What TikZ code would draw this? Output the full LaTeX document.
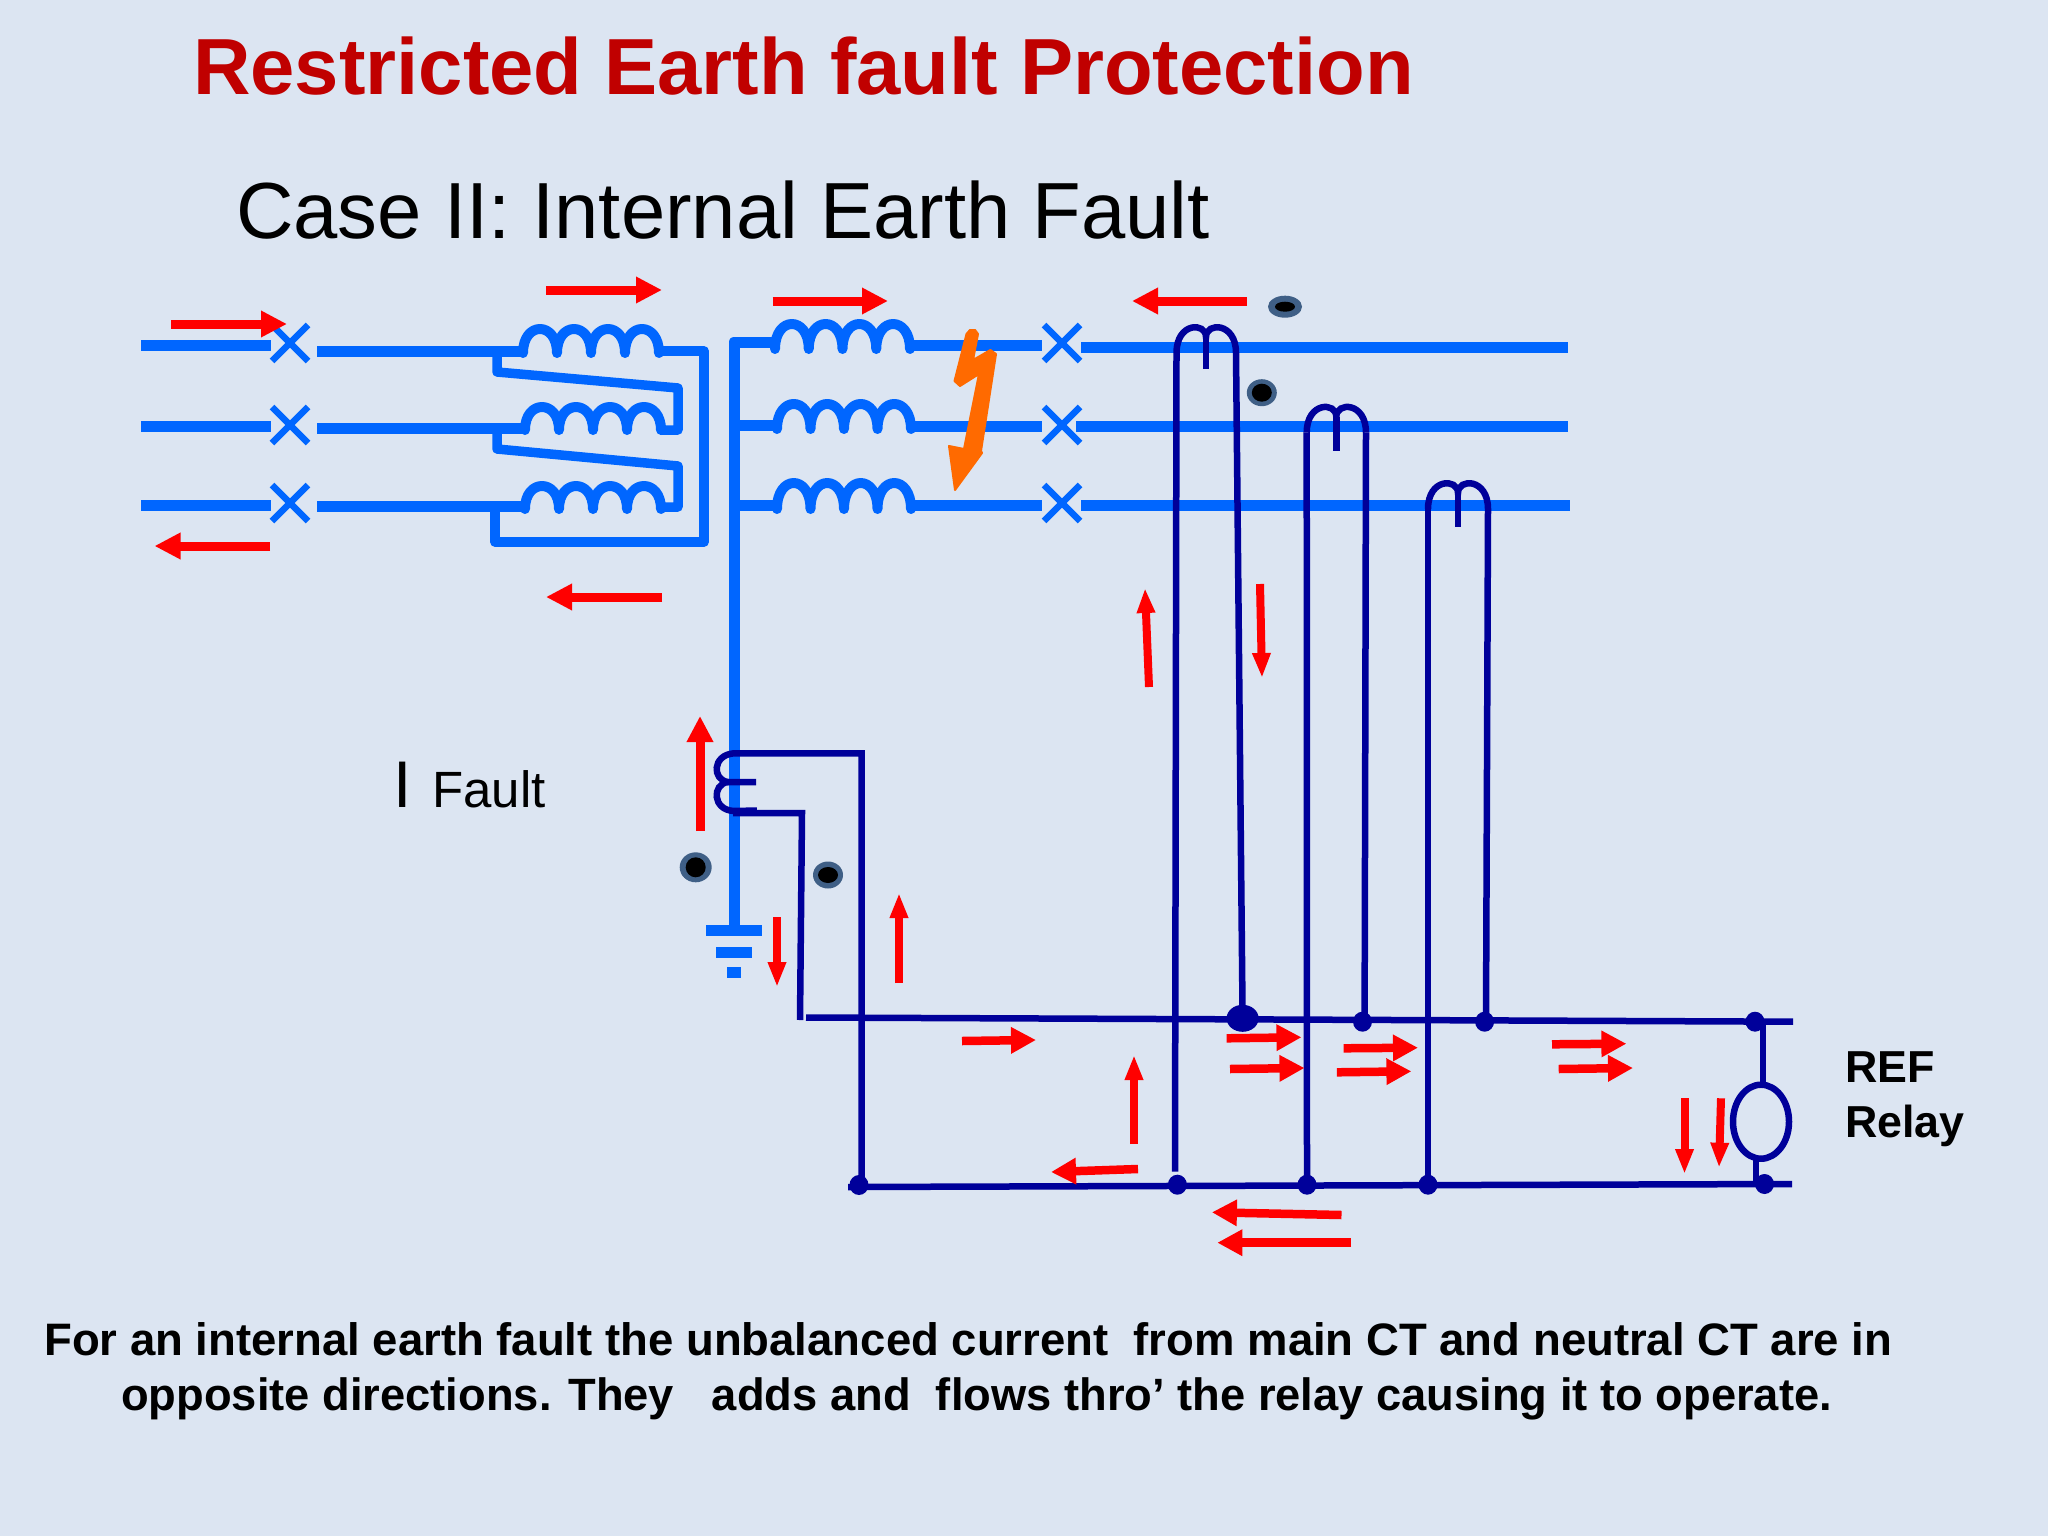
\documentclass[tikz,border=0pt]{standalone}
\usepackage{fontspec}
\setmainfont{Liberation Sans}
\usetikzlibrary{arrows.meta,shapes.geometric}
\definecolor{bg}{HTML}{DCE5F2}
\definecolor{wire}{HTML}{0066FF}
\definecolor{navy}{HTML}{00009A}
\definecolor{redc}{HTML}{FF0000}
\definecolor{titlered}{HTML}{C00000}
\definecolor{bolt}{HTML}{FF6A00}
\definecolor{spotring}{HTML}{3F5F86}
\tikzset{
  mainline/.style={draw=wire,line width=11pt},
  coilline/.style={draw=wire,line width=10pt,line cap=round,line join=round},
  wyeline/.style={draw=wire,line width=9.5pt,line join=round},
  breaker/.style={draw=wire,line width=6.5pt},
  ctline/.style={draw=navy,line width=6.5pt},
  busline/.style={draw=navy,line width=6.5pt},
  junction/.style={ellipse,fill=navy,inner sep=0pt,minimum width=19pt,minimum height=20pt},
  bigjunction/.style={ellipse,fill=navy,inner sep=0pt,minimum width=32pt,minimum height=27pt},
  flowbig/.style={draw=redc,line width=9pt,-{Triangle[length=26pt,width=25pt]}},
  flowmid/.style={draw=redc,line width=8.5pt,-{Triangle[length=25pt,width=25pt]}},
  flowthin/.style={draw=redc,line width=8pt,-{Triangle[length=25pt,width=17pt]}},
  label/.style={inner sep=0pt,anchor=base west},
}
\newcommand{\coilpath}[4]{% x0, w, ybase, ypeak
  \pgfmathsetmacro{\cc}{#4-(#3-#4)/3}
  \pgfmathsetmacro{\xa}{#1+#2}\pgfmathsetmacro{\xb}{#1+2*#2}
  \pgfmathsetmacro{\xc}{#1+3*#2}\pgfmathsetmacro{\xd}{#1+4*#2}
  \draw[coilline] (#1,#3) .. controls (#1,\cc) and (\xa,\cc) .. (\xa,#3)
    .. controls (\xa,\cc) and (\xb,\cc) .. (\xb,#3)
    .. controls (\xb,\cc) and (\xc,\cc) .. (\xc,#3)
    .. controls (\xc,\cc) and (\xd,\cc) .. (\xd,#3);
}
\newcommand{\crossat}[2]{%
  \draw[breaker] (#1-18,#2-18) -- (#1+18,#2+18) (#1-18,#2+18) -- (#1+18,#2-18);
}
\newcommand{\spot}[8]{% x y rx ry irx iry
  \fill[spotring] (#1,#2) ellipse [x radius=#3,y radius=#4];
  \fill[black] (#1,#2) ellipse [x radius=#5,y radius=#6];
}
\newcommand{\ctarch}[5]{% xL xC xR ypeak ystubend
  \pgfmathsetmacro{\cy}{#4-5}\pgfmathsetmacro{\yb}{#4+26}\pgfmathsetmacro{\yj}{#4+10}
  \draw[ctline] (#1,\yb) .. controls (#1,\cy) and (#2,\cy) .. (#2,\yj)
     .. controls (#2,\cy) and (#3,\cy) .. (#3,\yb);
  \draw[ctline] (#2,\yj) -- (#2,#5);
}
\begin{document}
\begin{tikzpicture}[x=1pt,y=-1pt]
\useasboundingbox (0,0) rectangle (2048,1536);
\fill[bg] (0,0) rectangle (2048,1536);

% titles
\node[label,text=titlered,font=\bfseries\fontsize{79.6}{80}\selectfont] (title) at (193,95) {Restricted Earth fault Protection};
\node[label,font=\fontsize{79.6}{80}\selectfont] (case) at (236,238) {Case II: Internal Earth Fault};
\node[label,font=\fontsize{66}{66}\selectfont] (ibar) at (393,807) {I};
\node[label,font=\fontsize{51}{51}\selectfont] (fault) at (432,807) {Fault};
\node[label,font=\bfseries\fontsize{44.8}{46}\selectfont] (ref) at (1845,1082) {REF};
\node[label,font=\bfseries\fontsize{44.8}{46}\selectfont] (relay) at (1845,1137) {Relay};
\node[label,font=\bfseries\fontsize{45.5}{46}\selectfont] (note1) at (44,1355) {For an internal earth fault the unbalanced current\ \ from main CT and neutral CT are in};
\node[label,font=\bfseries\fontsize{45.3}{46}\selectfont] (note2) at (121,1410) {opposite directions. They\ \ \ adds and\ \ flows thro’ the relay causing it to operate.};

% incoming lines and breakers
\draw[mainline] (141,345) -- (271,345);
\draw[mainline] (141,426) -- (271,426);
\draw[mainline] (141,505) -- (271,505);
\crossat{290}{343}\crossat{290}{425}\crossat{290}{503}
\draw[mainline] (317,351) -- (523,351);
\draw[mainline] (317,428) -- (525,428);
\draw[mainline] (317,506) -- (525,506);

% primary delta
\coilpath{523}{34}{353}{329}
\coilpath{525}{34}{430}{407}
\coilpath{525}{34}{509}{486}
\draw[wyeline] (659,351) -- (704,351) -- (704,542) -- (495,542) -- (495,506);
\draw[wyeline] (497,351) -- (497,372) -- (678,388) -- (678,430) -- (660,430);
\draw[wyeline] (497,428) -- (497,449) -- (678,466) -- (678,507) -- (660,507);

% secondary star
\draw[wyeline,line width=11pt] (775,342) -- (734,342) -- (734,930);
\draw[mainline] (734,425) -- (777,425);
\draw[mainline] (734,505) -- (777,505);
\coilpath{775}{33.75}{349}{324}
\coilpath{777}{33.5}{429}{404}
\coilpath{777}{33.5}{509}{483}
\draw[mainline] (910,345) -- (1042,345);
\draw[mainline] (911,426) -- (1042,426);
\draw[mainline] (911,505) -- (1042,505);
\crossat{1062}{343}\crossat{1062}{425}\crossat{1062}{503}
\draw[mainline] (1081,347) -- (1568,347);
\draw[mainline] (1076,426) -- (1568,426);
\draw[mainline] (1081,505) -- (1570,505);

% earth
\fill[wire] (705.7,925) rectangle (762.3,936);
\fill[wire] (716,946.7) rectangle (751.7,957.7);
\fill[wire] (727.3,966.7) rectangle (741,977.7);

% fault bolt
\fill[bolt,draw=bolt,line width=2pt,line join=round] (966.5,334) -- (970,330) -- (975,330) -- (978,334) -- (973,360) -- (990.4,350) -- (996,354) -- (981,451) -- (982,453) -- (955,490) -- (949,446) -- (964,449) -- (979,374) -- (960,386) -- (954.5,381) -- cycle;

% buses and junctions
\draw[busline] (806,1017.5) -- (1793,1021.7);
\draw[busline] (848,1187) -- (1792,1184);
\node[junction] (nb) at (859,1185) {};
\node[bigjunction] (ct1top) at (1242.6,1018.3) {};
\node[junction] (ct1low) at (1177.4,1184.7) {};
\node[junction] (ct2top) at (1362.5,1021.7) {};
\node[junction] (ct2low) at (1307,1184.7) {};
\node[junction] (ct3top) at (1484.6,1021.7) {};
\node[junction] (ct3low) at (1428,1184.7) {};
\node[junction] (rtop) at (1755,1021.7) {};
\node[junction] (rlow) at (1764.5,1184) {};

% main CTs
\ctarch{1176.5}{1206}{1236}{327}{369}
\ctarch{1306.7}{1336.3}{1366}{406.7}{450.7}
\ctarch{1428}{1458}{1488}{483}{527}
\coordinate (a1) at (1176.5,353);
\coordinate (b1) at (1236,353);
\coordinate (a2) at (1306.7,432.7);
\coordinate (b2) at (1366,432.7);
\coordinate (a3) at (1428,509);
\coordinate (b3) at (1488,509);
\draw[ctline] (a1) -- (1175,1171.7);
\draw[ctline] (b1) -- (ct1top.center);
\draw[ctline] (a2) -- (ct2low.center);
\draw[ctline] (b2) -- (1364.6,1018);
\draw[ctline] (a3) -- (ct3low.center);
\draw[ctline] (b3) -- (1486,1021);

% neutral CT
\draw[ctline] (756,782) -- (728,782) .. controls (712,780) and (712,755) .. (734,753.3) -- (861.7,753.3) -- (861.7,1185);
\draw[ctline] (757,810.5) -- (734,811) .. controls (712,810) and (712,784) .. (728,782);
\draw[ctline] (733,813) -- (802,813) -- (800,1020);

% relay
\node[draw=navy,line width=6.5pt,ellipse,minimum width=56pt,minimum height=74pt,inner sep=0pt,outer sep=0pt] (relaycoil) at (1761,1121.7) {};
\draw[ctline] (1763,1021.7) -- (1763,1082);
\draw[ctline] (1756,1160) -- (1756,1184);

% current arrows
\draw[flowbig] (171,324) -- (287,324);
\draw[flowbig] (546,290) -- (662,290);
\draw[flowbig] (270,546) -- (154.5,546);
\draw[flowbig] (662,597) -- (546,597);
\draw[flowbig] (772.5,301) -- (888,301);
\draw[flowbig] (1247,301) -- (1132,301);
\draw[flowthin] (1149,687) -- (1145,588);
\draw[flowthin] (1260,584) -- (1262,678);
\draw[flowbig] (700,831) -- (700,716);
\draw[flowthin] (777,917) -- (777,987);
\draw[flowthin] (899,983) -- (899,893);
\draw[flowmid] (962,1041) -- (1036,1040);
\draw[flowthin] (1134,1144) -- (1134,1055);
\draw[flowmid] (1138,1169) -- (1051,1172);
\draw[flowmid] (1226.6,1038.3) -- (1301.5,1037.3);
\draw[flowmid] (1230,1069) -- (1304.5,1068);
\draw[flowmid] (1343.6,1048.3) -- (1418,1047.7);
\draw[flowmid] (1336.9,1072.3) -- (1411.4,1071.3);
\draw[flowmid] (1552,1044.3) -- (1626.4,1043.7);
\draw[flowmid] (1558.7,1069) -- (1633,1068);
\draw[flowthin] (1684.5,1098.3) -- (1684.5,1174);
\draw[flowthin] (1721,1098.3) -- (1719,1167.7);
\draw[flowmid] (1341.5,1215) -- (1211.9,1212.3);
\draw[flowmid] (1351,1242.7) -- (1217.3,1242.7);

% polarity spots
\spot{1285}{306.7}{17}{11}{10}{5}{}{}
\spot{1261.8}{392.7}{15}{13.5}{10}{9}{}{}
\spot{695.7}{867.3}{16}{15}{10}{10}{}{}
\spot{828}{875}{15}{13.5}{10}{8}{}{}
\end{tikzpicture}
\end{document}
